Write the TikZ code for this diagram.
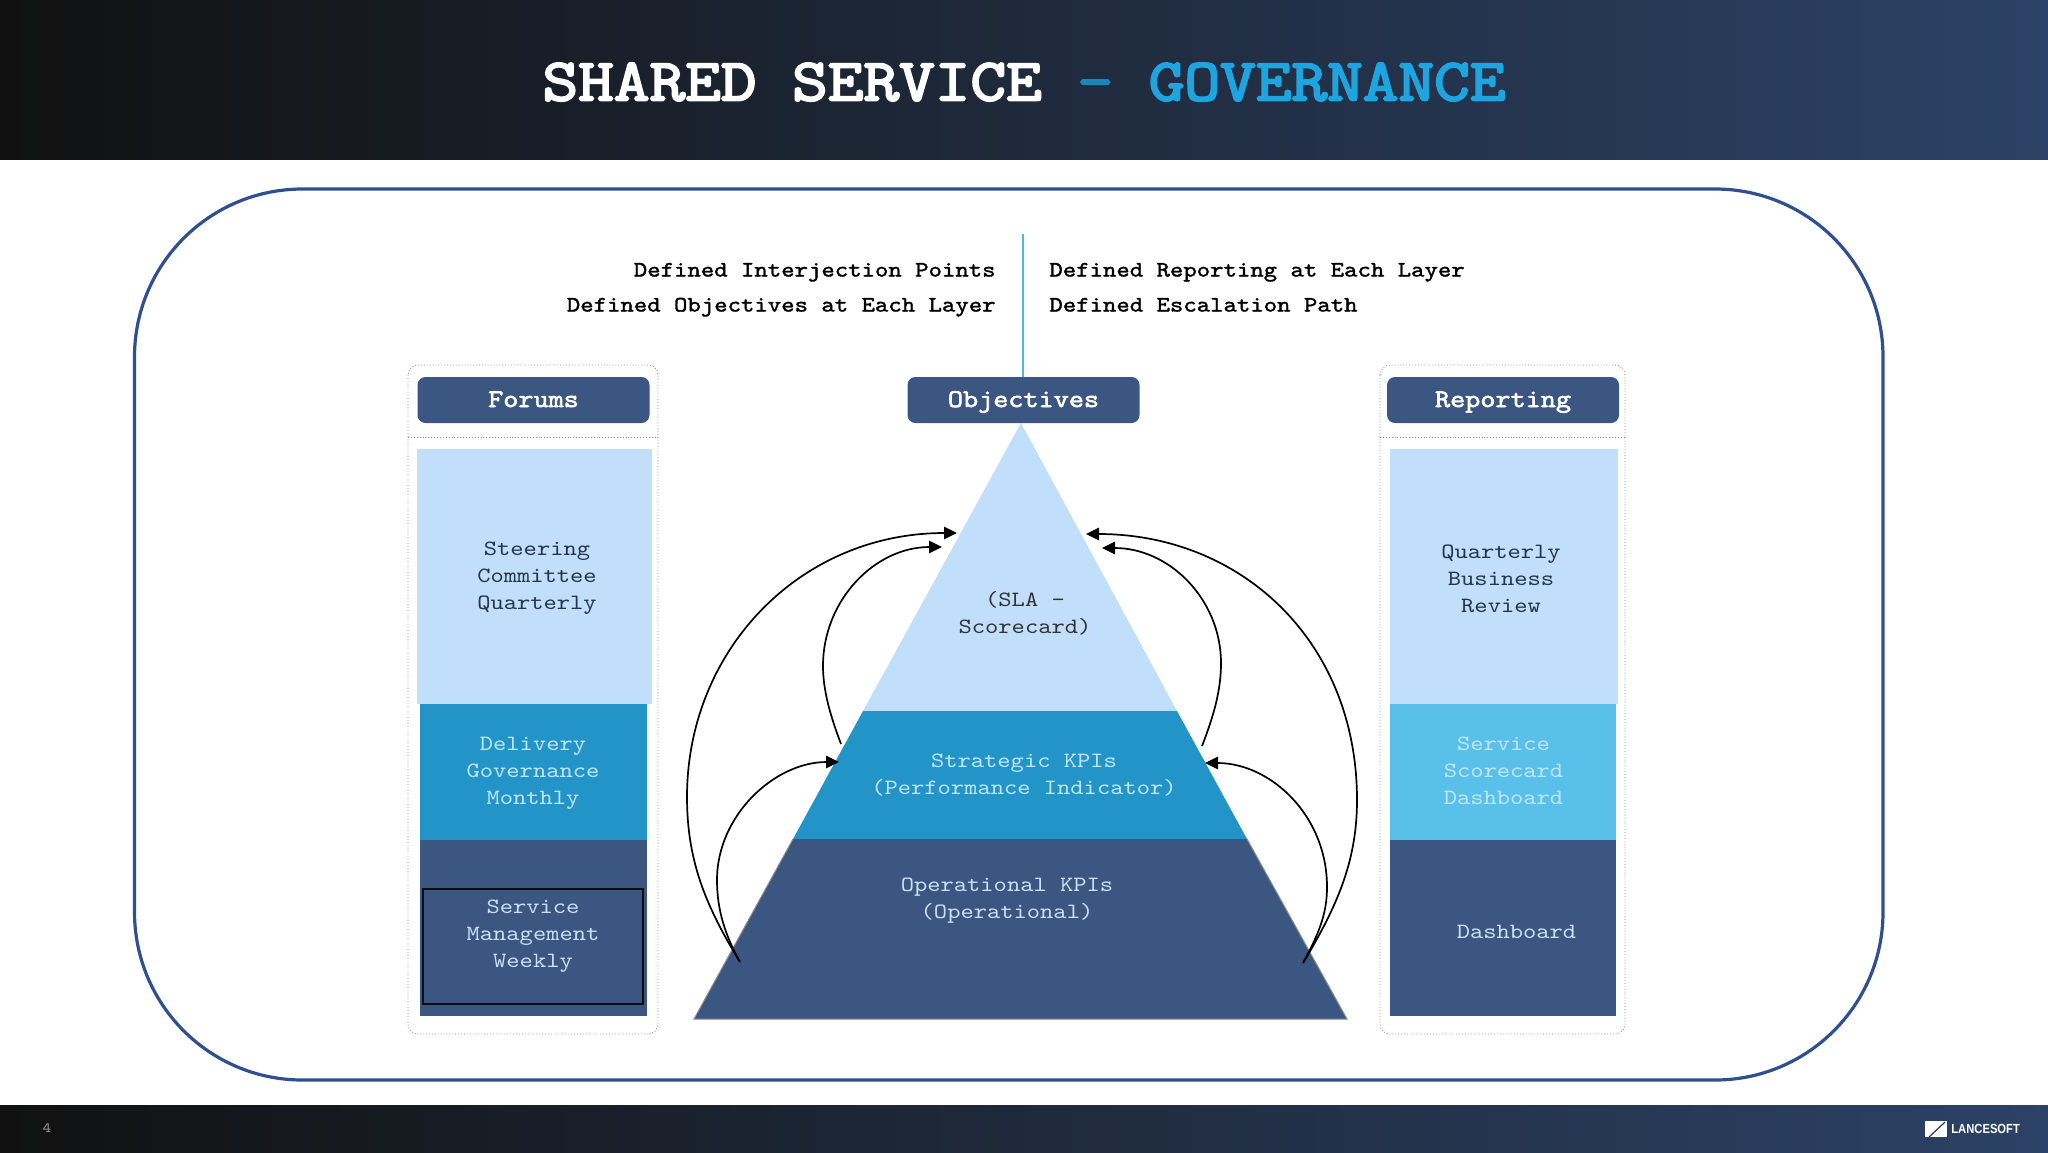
\documentclass[tikz,border=0pt]{standalone}
\usepackage{fontspec}
\usetikzlibrary{arrows.meta,shadings}
\setmainfont{Liberation Sans}
\newfontfamily\bodyf[FakeStretch=1.16]{Latin Modern Mono}
\newfontfamily\boldf[FakeStretch=1.16,FakeBold=2.6]{Latin Modern Mono}
\newfontfamily\titlef[FakeStretch=1.16,FakeBold=3.6]{Latin Modern Mono}
\newfontfamily\semif[FakeStretch=1.16,FakeBold=1.5]{Latin Modern Mono}
\definecolor{navy}{HTML}{3B5680}
\definecolor{midblue}{HTML}{2394C8}
\definecolor{pale}{HTML}{C1DFFB}
\definecolor{sky}{HTML}{59C0EA}
\definecolor{ring}{HTML}{2F5090}
\definecolor{bar0}{HTML}{111111}
\definecolor{bar1}{HTML}{1F2A3A}
\definecolor{bar2}{HTML}{2C4266}
\definecolor{titleblue}{HTML}{1EA5E0}
\definecolor{dashblue}{HTML}{1A86BB}
\definecolor{darktext}{HTML}{24344C}
\definecolor{lighttext}{HTML}{BFE6FA}
\definecolor{navytext}{HTML}{C8E0FA}
\tikzset{
  bar/.style={left color=bar0,middle color=bar1,right color=bar2,draw=none},
  panel/.style={draw=black!45,line width=0.45pt,densely dotted,fill=white,rounded corners=5pt},
  headbox/.style={fill=navy,rounded corners=4pt,minimum width=116pt,minimum height=23pt,inner sep=0pt,text=white,text height=10pt,text depth=3pt,font=\boldf\fontsize{12.65}{15}\selectfont},
  body/.style={font=\bodyf\fontsize{10.9}{13.5}\selectfont,align=center,inner sep=0pt},
  note/.style={font=\semif\fontsize{11}{13}\selectfont,inner sep=0pt,text=black,text height=8pt,text depth=2.5pt},
  loop/.style={draw=black,line width=0.85pt,-{Triangle[length=6.5pt,width=6.2pt]}}
}
\begin{document}
\begin{tikzpicture}[x=0.5pt,y=-0.5pt]
\useasboundingbox (0,0) rectangle (2048,1152);
% bars
\fill[white] (0,0) rectangle (2048,1152);
\path[bar] (0,0) rectangle (2048,159);
\path[bar] (0,1105) rectangle (2048,1152);
\node[inner sep=0pt,font=\titlef\fontsize{29.85}{33}\selectfont] (title) at (1024,82)
  {\textcolor{white}{SHARED SERVICE} \textcolor{dashblue}{-} \textcolor{titleblue}{GOVERNANCE}};
\node[inner sep=0pt,text=black!40,font=\bodyf\fontsize{7}{8}\selectfont] (pageno) at (47,1128) {4};
% logo
\fill[white] (1925,1121) rectangle (1947,1137);
\draw[navy!70!black,line width=0.6pt] (1929,1137) -- (1945,1122);
\node[inner sep=0pt,anchor=west,text=white,font=\bfseries\fontsize{6.6}{8}\selectfont,xscale=0.85] (logo) at (1951,1129) {LANCESOFT};
% outer ring
\draw[ring,line width=1.6pt,rounded corners=84pt] (134.5,189) rectangle (1883,1080);
% panels
\draw[panel] (408,365) rectangle (658,1034);
\draw[black!45,line width=0.45pt,densely dotted] (408,437) -- (658,437);
\draw[panel] (1380,365) rectangle (1625,1034);
\draw[black!45,line width=0.45pt,densely dotted] (1380,437) -- (1625,437);
% left column
\fill[pale] (417,449) rectangle (652,704);
\fill[midblue] (420,704) rectangle (647,840);
\fill[navy] (420,840) rectangle (647,1016);
\draw[black!85!navy,line width=0.9pt] (423,889) rectangle (643,1004);
\node[body,text=darktext] (steer) at (537,578.5) {Steering\\Committee\\Quarterly};
\node[body,text=lighttext] (deliv) at (533,773) {Delivery\\Governance\\Monthly};
\node[body,text=navytext] (svc) at (533,936) {Service\\Management\\Weekly};
% right column
\fill[pale] (1390,449) rectangle (1618,704);
\fill[sky] (1390,704) rectangle (1616,840);
\fill[navy] (1390,840) rectangle (1616,1016);
\node[body,text=darktext] (qbr) at (1501,579) {Quarterly\\Business\\Review};
\node[body,text=lighttext] (score) at (1503.5,771) {Service\\Scorecard\\Dashboard};
\node[body,text=navytext] (dash) at (1516.5,932) {Dashboard};
% pyramid
\fill[pale] (1021,423) -- (1177,711) -- (863,711) -- cycle;
\fill[midblue] (863,711) -- (1177,711) -- (1247,839) -- (793,839) -- cycle;
\fill[navy] (793,839) -- (1247,839) -- (1347,1019) -- (694,1019) -- cycle;
\draw[black!45,line width=0.5pt] (793,839) -- (694,1019) -- (1347,1019) -- (1247,839);
\node[body,text=black!80] (sla) at (1025,613) {(SLA -\\Scorecard)};
\node[body,text=lighttext] (strat) at (1024,775) {Strategic KPIs\\(Performance Indicator)};
\node[body,text=navytext] (oper) at (1007,900.5) {Operational KPIs\\(Operational)};
% headers
\node[headbox] (forums) at (533.5,400) {Forums};
\node[headbox] (objectives) at (1023.5,400) {Objectives};
\node[headbox] (reporting) at (1503,400) {Reporting};
% top texts
\coordinate (stem) at (1023,234);
\draw[titleblue!80!white,line width=0.8pt] (stem) -- (objectives.north -| stem);
\node[note,anchor=east] (n1) at (996,271) {Defined Interjection Points};
\node[note,anchor=east] (n2) at (996,306) {Defined Objectives at Each Layer};
\node[note,anchor=west] (n3) at (1049,271) {Defined Reporting at Each Layer};
\node[note,anchor=west] (n4) at (1049,306) {Defined Escalation Path};
% connector ends
\coordinate (Lbase) at (740,962);
\coordinate (Lmid) at (839,762);
\coordinate (Lmidout) at (841,744);
\coordinate (Ltop) at (957,533);
\coordinate (Ltopin) at (942,547);
\coordinate (Rbase) at (1303,963);
\coordinate (Rmid) at (1205,763);
\coordinate (Rmidout) at (1202,746);
\coordinate (Rtop) at (1086,534);
\coordinate (Rtopin) at (1102,548);
% right connectors
\draw[loop] (Rbase) .. controls (1338,905) and (1357,860) .. (1357,800) .. controls (1357,640) and (1240,534) .. (Rtop);
\draw[loop] (Rbase) .. controls (1318,935) and (1327,915) .. (1327,887) .. controls (1327,815) and (1270,763) .. (Rmid);
\draw[loop] (Rmidout) .. controls (1214,715) and (1221,690) .. (1221,663) .. controls (1221,600) and (1170,548) .. (Rtopin);
% left connectors
\draw[loop] (Lbase) .. controls (705,905) and (687,860) .. (687,797) .. controls (687,650) and (800,533) .. (Ltop);
\draw[loop] (Lbase) .. controls (725,935) and (717,910) .. (717,880) .. controls (717,815) and (775,762) .. (Lmid);
\draw[loop] (Lmidout) .. controls (830,715) and (823,690) .. (823,666) .. controls (823,600) and (875,547) .. (Ltopin);
\end{tikzpicture}
\end{document}
